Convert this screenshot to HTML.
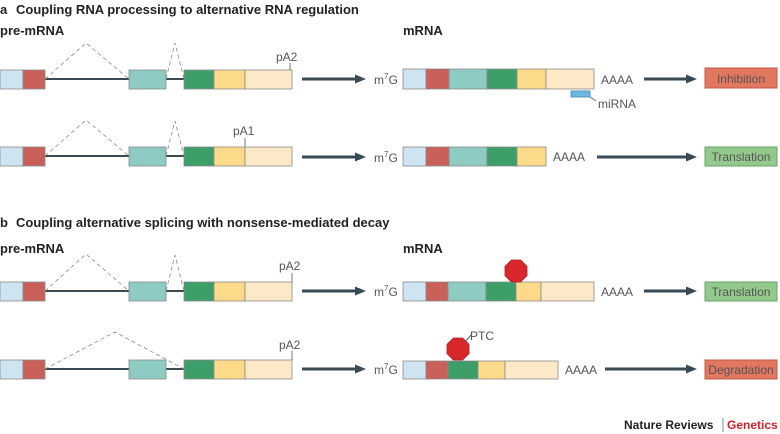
<!DOCTYPE html>
<html><head><meta charset="utf-8"><style>
html,body{margin:0;padding:0;background:#fff;}
svg{display:block;font-family:"Liberation Sans",sans-serif;}
.t{font-weight:bold;font-size:13px;fill:#222;}
.l{font-size:12px;fill:#555;}
.bx{stroke:#8a8a8a;stroke-width:0.8;}
.dash{stroke:#888;stroke-width:0.8;stroke-dasharray:4,3;fill:none;}
.ln{stroke:#3a4a55;stroke-width:2;}
.ar{stroke:#3a4a55;stroke-width:3;}
</style></head><body>
<svg width="780" height="434" viewBox="0 0 780 434">
<defs>
<marker id="ah" markerWidth="11" markerHeight="10" refX="2" refY="5" orient="auto" markerUnits="userSpaceOnUse"><path d="M0,0.5 L11,5 L0,9.5 z" fill="#3a4a55"/></marker>
</defs>
<text class="t" x="0" y="14">a<tspan x="16">Coupling RNA processing to alternative RNA regulation</tspan></text>
<text class="t" x="0" y="35">pre-mRNA</text>
<text class="t" x="403" y="35">mRNA</text>

<line class="ln" x1="45" y1="79" x2="129" y2="79"/><line class="ln" x1="166" y1="79" x2="184" y2="79"/>
<polyline class="dash" points="45,79 86,43 129,79"/><polyline class="dash" points="166,79 175,43 184,79"/>
<rect class="bx" x="0" y="70" width="23" height="19" fill="#cfe4f1"/>
<rect class="bx" x="23" y="70" width="22" height="19" fill="#c9605a"/>
<rect class="bx" x="129" y="70" width="37" height="19" fill="#8ecbc3"/>
<rect class="bx" x="184" y="70" width="30" height="19" fill="#3d9e6a"/>
<rect class="bx" x="214" y="70" width="31" height="19" fill="#fdd98a"/>
<rect class="bx" x="245" y="70" width="47" height="19" fill="#fde9c8"/>
<line x1="290" y1="63" x2="290" y2="70" stroke="#777"/>
<text class="l" x="276" y="61">pA2</text>
<line class="ar" x1="302" y1="79" x2="357" y2="79" marker-end="url(#ah)"/>
<text class="l" x="374" y="84">m<tspan font-size="8" dy="-5">7</tspan><tspan dy="5">G</tspan></text>

<rect class="bx" x="403" y="69" width="23" height="20" fill="#cfe4f1"/>
<rect class="bx" x="426" y="69" width="23" height="20" fill="#c9605a"/>
<rect class="bx" x="449" y="69" width="38" height="20" fill="#8ecbc3"/>
<rect class="bx" x="487" y="69" width="30" height="20" fill="#3d9e6a"/>
<rect class="bx" x="517" y="69" width="29" height="20" fill="#fdd98a"/>
<rect class="bx" x="546" y="69" width="48" height="20" fill="#fde9c8"/>
<text class="l" x="601" y="84">AAAA</text>
<line class="ar" x1="644" y1="79" x2="688" y2="79" marker-end="url(#ah)"/>
<rect x="705" y="68" width="72" height="20" fill="#e2775f" stroke="#c05a48"/>
<text class="l" x="741" y="83" text-anchor="middle" fill="#5a2a20">Inhibition</text>
<rect x="571" y="91" width="19" height="6" fill="#6cb8df" stroke="#3f8fb8" stroke-width="0.8"/>
<line x1="590" y1="97" x2="596" y2="101" stroke="#666"/>
<text class="l" x="598" y="108">miRNA</text>

<line class="ln" x1="45" y1="156" x2="129" y2="156"/><line class="ln" x1="166" y1="156" x2="184" y2="156"/>
<polyline class="dash" points="45,156 86,120 129,156"/><polyline class="dash" points="166,156 175,121 184,156"/>
<rect class="bx" x="0" y="147" width="23" height="19" fill="#cfe4f1"/>
<rect class="bx" x="23" y="147" width="22" height="19" fill="#c9605a"/>
<rect class="bx" x="129" y="147" width="37" height="19" fill="#8ecbc3"/>
<rect class="bx" x="184" y="147" width="30" height="19" fill="#3d9e6a"/>
<rect class="bx" x="214" y="147" width="31" height="19" fill="#fdd98a"/>
<rect class="bx" x="245" y="147" width="47" height="19" fill="#fde9c8"/>
<line x1="245" y1="138" x2="245" y2="147" stroke="#777"/>
<text class="l" x="233" y="135">pA1</text>
<line class="ar" x1="302" y1="157" x2="357" y2="157" marker-end="url(#ah)"/>
<text class="l" x="374" y="162">m<tspan font-size="8" dy="-5">7</tspan><tspan dy="5">G</tspan></text>
<rect class="bx" x="403" y="147" width="23" height="19" fill="#cfe4f1"/>
<rect class="bx" x="426" y="147" width="23" height="19" fill="#c9605a"/>
<rect class="bx" x="449" y="147" width="38" height="19" fill="#8ecbc3"/>
<rect class="bx" x="487" y="147" width="30" height="19" fill="#3d9e6a"/>
<rect class="bx" x="517" y="147" width="29" height="19" fill="#fdd98a"/>
<text class="l" x="553" y="161">AAAA</text>
<line class="ar" x1="597" y1="157" x2="688" y2="157" marker-end="url(#ah)"/>
<rect x="705" y="147" width="72" height="19" fill="#93c98c" stroke="#6aa463"/>
<text class="l" x="741" y="161" text-anchor="middle" fill="#2d4a2a">Translation</text>

<text class="t" x="0" y="227">b<tspan x="16">Coupling alternative splicing with nonsense-mediated decay</tspan></text>
<text class="t" x="0" y="253">pre-mRNA</text>
<text class="t" x="403" y="253">mRNA</text>

<line class="ln" x1="45" y1="291" x2="129" y2="291"/><line class="ln" x1="166" y1="291" x2="184" y2="291"/>
<polyline class="dash" points="45,291 86,254 129,291"/><polyline class="dash" points="166,291 175,255 184,291"/>
<rect class="bx" x="0" y="282" width="23" height="19" fill="#cfe4f1"/>
<rect class="bx" x="23" y="282" width="22" height="19" fill="#c9605a"/>
<rect class="bx" x="129" y="282" width="37" height="19" fill="#8ecbc3"/>
<rect class="bx" x="184" y="282" width="30" height="19" fill="#3d9e6a"/>
<rect class="bx" x="214" y="282" width="31" height="19" fill="#fdd98a"/>
<rect class="bx" x="245" y="282" width="47" height="19" fill="#fde9c8"/>
<line x1="292" y1="273" x2="292" y2="282" stroke="#777"/>
<text class="l" x="279" y="270">pA2</text>
<line class="ar" x1="302" y1="291" x2="357" y2="291" marker-end="url(#ah)"/>
<text class="l" x="374" y="296">m<tspan font-size="8" dy="-5">7</tspan><tspan dy="5">G</tspan></text>
<rect class="bx" x="403" y="282" width="23" height="19" fill="#cfe4f1"/>
<rect class="bx" x="426" y="282" width="22" height="19" fill="#c9605a"/>
<rect class="bx" x="448" y="282" width="38" height="19" fill="#8ecbc3"/>
<rect class="bx" x="486" y="282" width="30" height="19" fill="#3d9e6a"/>
<rect class="bx" x="516" y="282" width="25" height="19" fill="#fdd98a"/>
<rect class="bx" x="541" y="282" width="53" height="19" fill="#fde9c8"/>
<polygon points="511.4,260 520.6,260 527,266.4 527,275.6 520.6,282 511.4,282 505,275.6 505,266.4" fill="#d8282c" stroke="#b01c20" stroke-width="0.8"/>
<text class="l" x="601" y="296">AAAA</text>
<line class="ar" x1="644" y1="291" x2="688" y2="291" marker-end="url(#ah)"/>
<rect x="705" y="282" width="72" height="19" fill="#93c98c" stroke="#6aa463"/>
<text class="l" x="741" y="296" text-anchor="middle" fill="#2d4a2a">Translation</text>

<line class="ln" x1="45" y1="369" x2="129" y2="369"/><line class="ln" x1="166" y1="369" x2="184" y2="369"/>
<polyline class="dash" points="45,369 115,332 184,369"/>
<rect class="bx" x="0" y="360" width="23" height="19" fill="#cfe4f1"/>
<rect class="bx" x="23" y="360" width="22" height="19" fill="#c9605a"/>
<rect class="bx" x="129" y="360" width="37" height="19" fill="#8ecbc3"/>
<rect class="bx" x="184" y="360" width="30" height="19" fill="#3d9e6a"/>
<rect class="bx" x="214" y="360" width="31" height="19" fill="#fdd98a"/>
<rect class="bx" x="245" y="360" width="47" height="19" fill="#fde9c8"/>
<line x1="292" y1="351" x2="292" y2="360" stroke="#777"/>
<text class="l" x="279" y="349">pA2</text>
<line class="ar" x1="302" y1="369" x2="357" y2="369" marker-end="url(#ah)"/>
<text class="l" x="374" y="374">m<tspan font-size="8" dy="-5">7</tspan><tspan dy="5">G</tspan></text>
<rect class="bx" x="403" y="361" width="23" height="18" fill="#cfe4f1"/>
<rect class="bx" x="426" y="361" width="22" height="18" fill="#c9605a"/>
<rect class="bx" x="448" y="361" width="30" height="18" fill="#3d9e6a"/>
<rect class="bx" x="478" y="361" width="27" height="18" fill="#fdd98a"/>
<rect class="bx" x="505" y="361" width="53" height="18" fill="#fde9c8"/>
<polygon points="453.4,338 462.6,338 469,344.4 469,353.6 462.6,360 453.4,360 447,353.6 447,344.4" fill="#d8282c" stroke="#b01c20" stroke-width="0.8"/>
<line x1="466" y1="341" x2="471" y2="335" stroke="#666"/>
<text class="l" x="470" y="340">PTC</text>
<text class="l" x="565" y="374">AAAA</text>
<line class="ar" x1="605" y1="369" x2="688" y2="369" marker-end="url(#ah)"/>
<rect x="705" y="360" width="72" height="19" fill="#e2775f" stroke="#c05a48"/>
<text class="l" x="741" y="374" text-anchor="middle" fill="#5a2a20">Degradation</text>

<text x="624" y="429" font-size="12" font-weight="bold" fill="#222">Nature Reviews</text>
<line x1="723" y1="418" x2="723" y2="432" stroke="#888"/>
<text x="727" y="429" font-size="12" font-weight="bold" fill="#d0202a">Genetics</text>
</svg>
</body></html>
